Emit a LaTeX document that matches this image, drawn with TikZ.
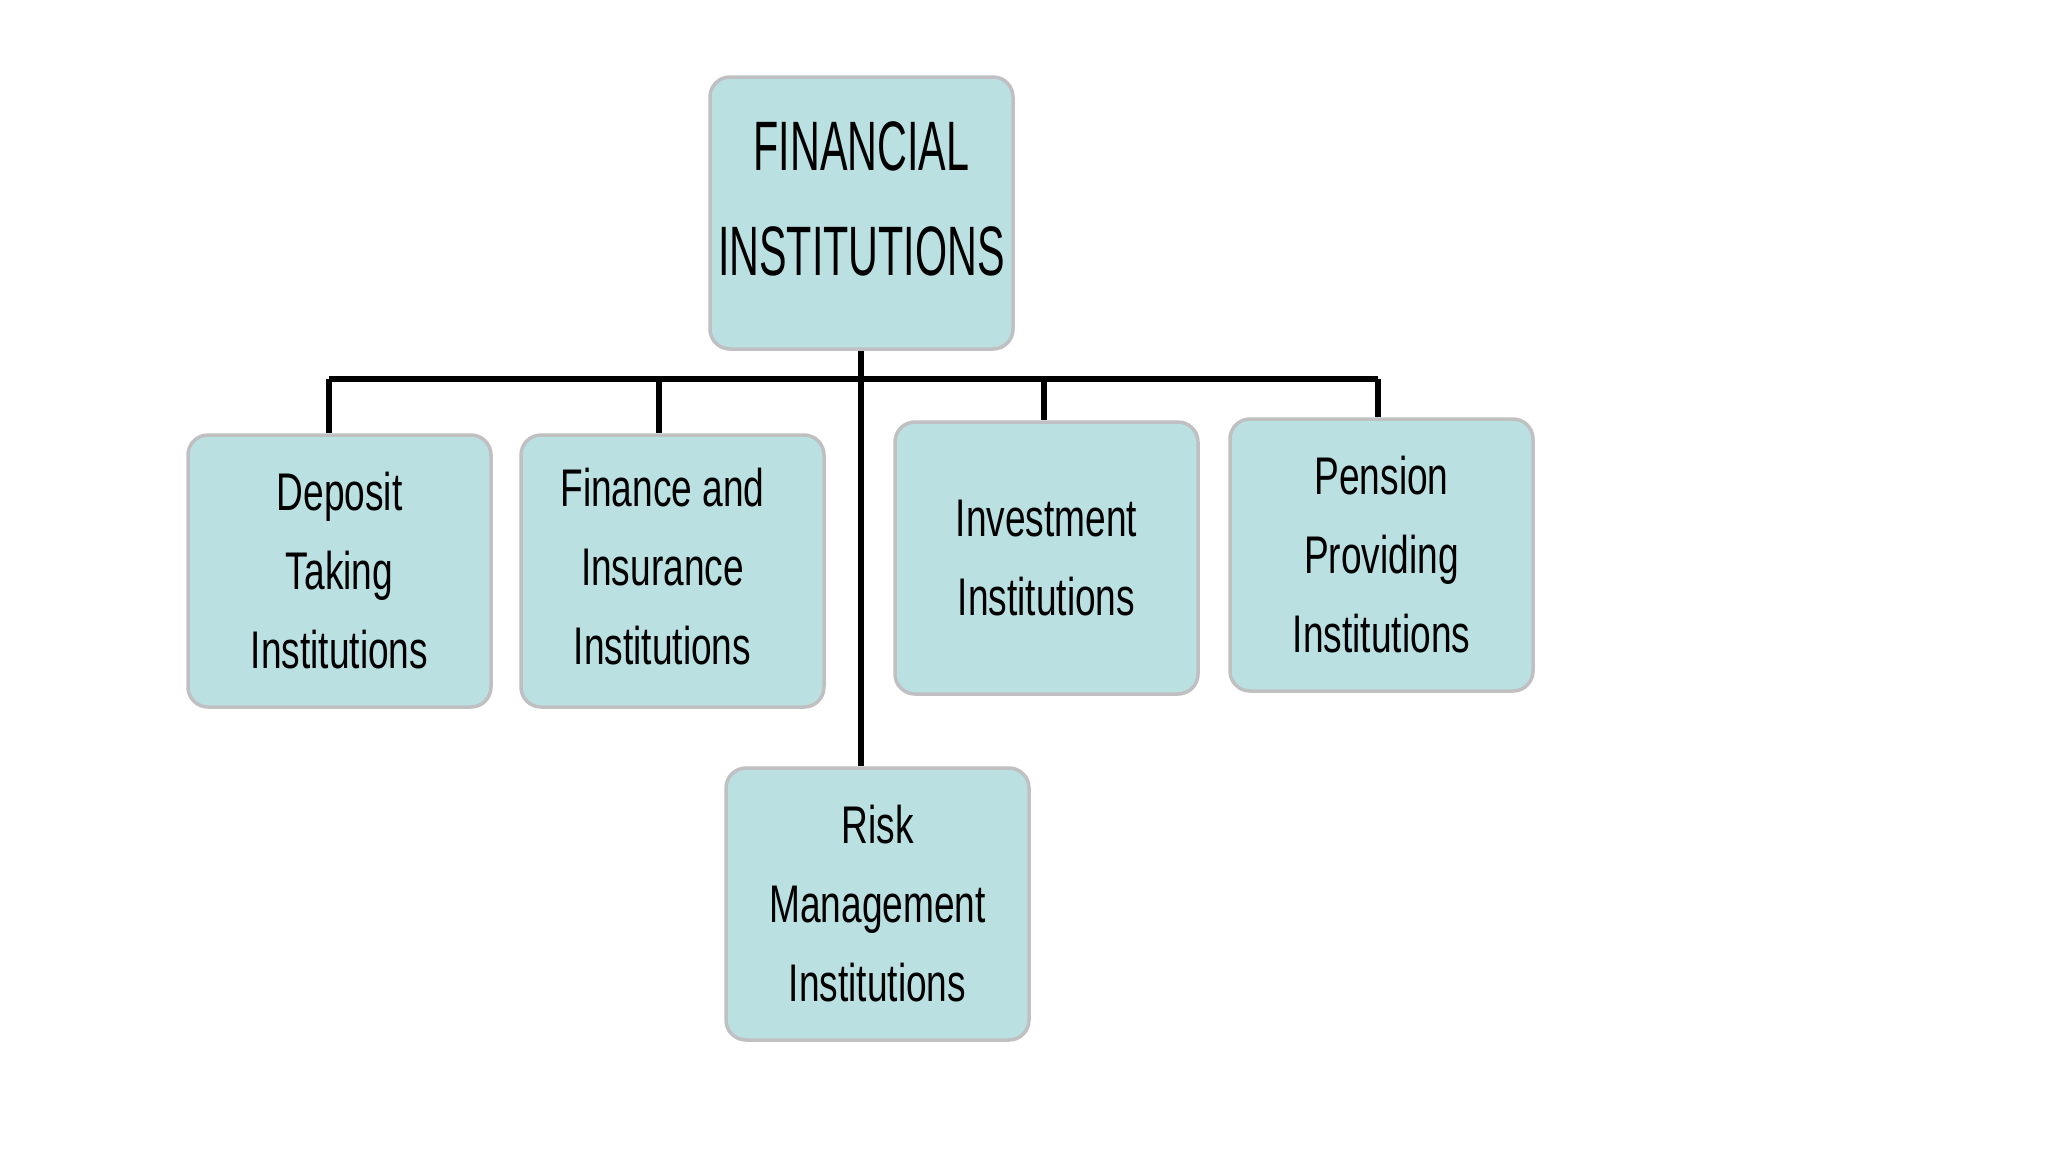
\documentclass[tikz,border=0pt]{standalone}
\usepackage{fontspec}
\setmainfont[FakeStretch=0.70]{Liberation Sans}
\newfontfamily\topfont[FakeStretch=0.59]{Liberation Sans}
\definecolor{boxfill}{RGB}{186,224,226}
\definecolor{boxedge}{RGB}{192,192,194}
\tikzset{
  orgbox/.style={draw=boxedge, line width=3.5pt, fill=boxfill, rounded corners=20pt,
    minimum width=303pt, minimum height=272pt, align=center, inner sep=0pt,
    font=\fontsize{53}{79}\selectfont},
  boxtext/.style={align=center, inner sep=0pt, font=\fontsize{53}{79}\selectfont},
  toptext/.style={align=center, inner sep=0pt, font=\topfont\fontsize{70}{105}\selectfont},
  link/.style={line width=6pt, black}
}
\begin{document}
\begin{tikzpicture}[x=1pt, y=-1pt]
\useasboundingbox[fill=white] (0,0) rectangle (2048,1152);
\node[orgbox] (fin) at (861.5,213) {};
\node[toptext] (finT) at ([yshift=14pt]fin.center) {FINANCIAL\\INSTITUTIONS};
\node[orgbox] (dep) at (339.5,571) {Deposit\\Taking\\Institutions};
\node[orgbox] (fai) at (672.5,571) {};
\node[boxtext] (faiT) at ([xshift=-10pt,yshift=4pt]fai.center) {Finance and\\Insurance\\Institutions};
\node[orgbox] (inv) at (1046.5,558) {Investment\\Institutions};
\node[orgbox] (pen) at (1381.5,555) {Pension\\Providing\\Institutions};
\node[orgbox] (risk) at (877.5,904) {Risk\\Management\\Institutions};
\coordinate (busL) at (329,379);
\coordinate (busR) at (1378,379);
\coordinate (busC) at (861,379);
\draw[link] (busL) -- (busR);
\draw[link] (busL) -- (dep.north -| busL);
\draw[link] (busL -| fai.north) ++(-14,0) coordinate (faiX) -- (faiX |- fai.north);
\draw[link] (1044,379) coordinate (invX) -- (invX |- inv.north);
\draw[link] (busR) -- (busR |- pen.north);
\draw[link] (fin.south -| busC) -- (busC |- risk.north);
\end{tikzpicture}
\end{document}
